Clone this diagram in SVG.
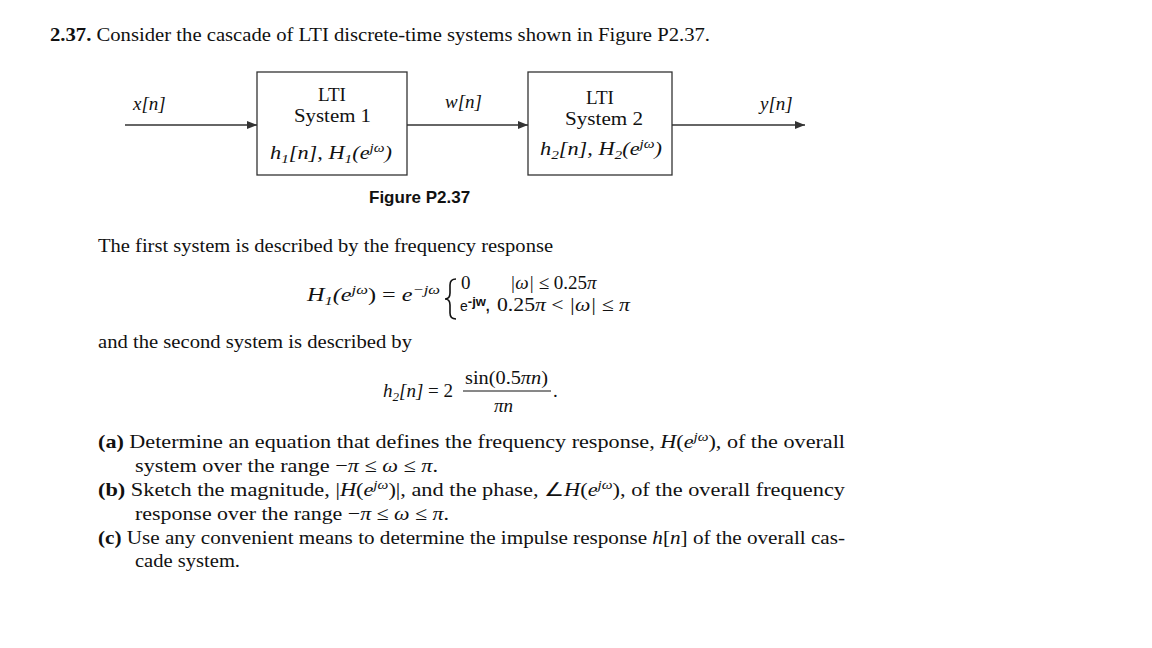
<svg xmlns="http://www.w3.org/2000/svg" width="1152" height="648" viewBox="0 0 1152 648">
<style>
text{font-family:"Liberation Serif",serif;font-size:19px;fill:#111}
.i{font-style:italic}
.s{font-size:13px}
.b{font-weight:bold}
.box{fill:#fff;stroke:#333;stroke-width:1.3}
.ln{stroke:#333;stroke-width:1.3;fill:none;marker-end:url(#ar)}
</style>
<defs><marker id="ar" viewBox="0 0 10 10" refX="10" refY="5" markerWidth="8" markerHeight="8" orient="auto"><path d="M0,1 L10,5 L0,9 z" fill="#333"/></marker></defs>
<rect width="1152" height="648" fill="#fff"/>
<text x="50" y="41" textLength="660" lengthAdjust="spacingAndGlyphs"><tspan class="b">2.37.</tspan> Consider the cascade of LTI discrete-time systems shown in Figure P2.37.</text>
<g id="connectors">
<line class="ln" x1="125" y1="125" x2="257" y2="125"/>
<line class="ln" x1="407" y1="125" x2="528" y2="125"/>
<line class="ln" x1="672" y1="125" x2="805" y2="125"/>
</g>
<text x="133" y="110" class="i">x[n]</text>
<text x="445" y="108" class="i">w[n]</text>
<text x="760" y="110" class="i">y[n]</text>
<g id="sys1">
<rect class="box" x="257" y="72" width="150" height="103"/>
<text x="332" y="101" text-anchor="middle">LTI</text>
<text x="294" y="122" textLength="77" lengthAdjust="spacingAndGlyphs">System 1</text>
<text x="270" y="159" class="i" textLength="122" lengthAdjust="spacingAndGlyphs">h<tspan class="s" dy="4">1</tspan><tspan dy="-4">[n], H</tspan><tspan class="s" dy="4">1</tspan><tspan dy="-4">(e</tspan><tspan class="s" dy="-7">jω</tspan><tspan dy="7">)</tspan></text>
</g>
<g id="sys2">
<rect class="box" x="528" y="72" width="144" height="103"/>
<text x="600" y="104" text-anchor="middle">LTI</text>
<text x="565" y="125" textLength="78" lengthAdjust="spacingAndGlyphs">System 2</text>
<text x="540" y="155" class="i" textLength="122" lengthAdjust="spacingAndGlyphs">h<tspan class="s" dy="4">2</tspan><tspan dy="-4">[n], H</tspan><tspan class="s" dy="4">2</tspan><tspan dy="-4">(e</tspan><tspan class="s" dy="-7">jω</tspan><tspan dy="7">)</tspan></text>
</g>
<text x="369" y="203" style="font-family:'Liberation Sans',sans-serif;font-weight:bold;font-size:17px">Figure P2.37</text>
<text x="98" y="252" textLength="455" lengthAdjust="spacingAndGlyphs">The first system is described by the frequency response</text>
<text x="307" y="301" class="i" textLength="133" lengthAdjust="spacingAndGlyphs">H<tspan class="s" dy="4">1</tspan><tspan dy="-4">(e</tspan><tspan class="s" dy="-7">jω</tspan><tspan dy="7" font-style="normal">) = </tspan>e<tspan class="s" dy="-7">−jω</tspan></text>
<path d="M456,279 Q450,279 450,285 L450,293 Q450,299 445,299 Q450,299 450,305 L450,313 Q450,319 456,319" fill="none" stroke="#111" stroke-width="1.6"/>
<text x="461" y="289">0</text>
<text x="510" y="289"><tspan class="i">|ω|</tspan> ≤ 0.25<tspan class="i">π</tspan></text>
<text x="460" y="311" style="font-family:'Liberation Sans',sans-serif;font-size:14px">e<tspan dy="-5" font-size="13" font-weight="bold">-jw</tspan><tspan dy="5" font-weight="bold">,</tspan></text>
<text x="497" y="311" textLength="133" lengthAdjust="spacingAndGlyphs">0.25<tspan class="i">π</tspan> &lt; <tspan class="i">|ω|</tspan> ≤ <tspan class="i">π</tspan></text>
<text x="98" y="348" textLength="314" lengthAdjust="spacingAndGlyphs">and the second system is described by</text>
<text x="383" y="397" class="i">h<tspan class="s" dy="4">2</tspan><tspan dy="-4">[n]</tspan><tspan font-style="normal"> = 2</tspan></text>
<text x="465" y="384" textLength="83" lengthAdjust="spacingAndGlyphs">sin(0.5<tspan class="i">πn</tspan>)</text>
<line x1="463" y1="391" x2="551" y2="391" stroke="#111" stroke-width="1"/>
<text x="553" y="397">.</text>
<text x="494" y="412" class="i">πn</text>
<text x="98" y="448" textLength="747" lengthAdjust="spacingAndGlyphs"><tspan class="b">(a)</tspan> Determine an equation that defines the frequency response, <tspan class="i">H</tspan>(<tspan class="i">e</tspan><tspan class="s i" dy="-7">jω</tspan><tspan dy="7">), of the overall</tspan></text>
<text x="135" y="472" textLength="303" lengthAdjust="spacingAndGlyphs">system over the range −<tspan class="i">π</tspan> ≤ <tspan class="i">ω</tspan> ≤ <tspan class="i">π</tspan>.</text>
<text x="98" y="496" textLength="747" lengthAdjust="spacingAndGlyphs"><tspan class="b">(b)</tspan> Sketch the magnitude, |<tspan class="i">H</tspan>(<tspan class="i">e</tspan><tspan class="s i" dy="-7">jω</tspan><tspan dy="7">)|, and the phase, ∠</tspan><tspan class="i">H</tspan>(<tspan class="i">e</tspan><tspan class="s i" dy="-7">jω</tspan><tspan dy="7">), of the overall frequency</tspan></text>
<text x="135" y="520" textLength="314" lengthAdjust="spacingAndGlyphs">response over the range −<tspan class="i">π</tspan> ≤ <tspan class="i">ω</tspan> ≤ <tspan class="i">π</tspan>.</text>
<text x="98" y="544" textLength="747" lengthAdjust="spacingAndGlyphs"><tspan class="b">(c)</tspan> Use any convenient means to determine the impulse response <tspan class="i">h</tspan>[<tspan class="i">n</tspan>] of the overall cas-</text>
<text x="135" y="567" textLength="105" lengthAdjust="spacingAndGlyphs">cade system.</text>
</svg>
